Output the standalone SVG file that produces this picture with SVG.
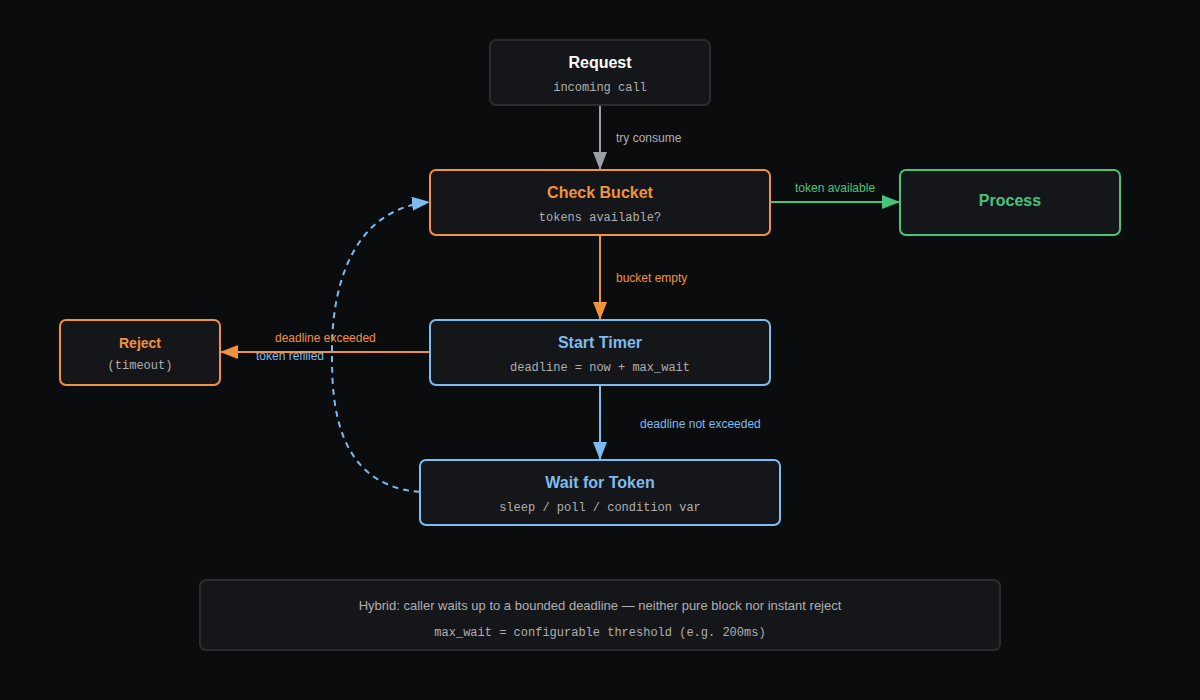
<svg xmlns="http://www.w3.org/2000/svg" width="1200" height="700" viewBox="0 0 1200 700">
<style>
.t{font-family:"Liberation Sans",Arial,sans-serif;font-weight:bold;font-size:16px;text-anchor:middle}
.m{font-family:"Liberation Mono","Courier New",monospace;font-size:12px;fill:#b0b0b0;text-anchor:middle}
.l{font-family:"Liberation Sans",Arial,sans-serif;font-size:12px}
.box{fill:#15161a;stroke-width:2}
</style>
<defs>
<marker id="ag" markerWidth="10" markerHeight="10" refX="9" refY="5" orient="auto" markerUnits="userSpaceOnUse" viewBox="0 0 10 10"><path d="M0,0L10,5L0,10z" fill="#9aa0a6"/></marker>
<marker id="ao" viewBox="0 0 18 14" markerWidth="18" markerHeight="14" refX="17" refY="7" orient="auto" markerUnits="userSpaceOnUse"><path d="M0,0L18,7L0,14z" fill="#f0923e"/></marker>
<marker id="agr" viewBox="0 0 18 14" markerWidth="18" markerHeight="14" refX="17" refY="7" orient="auto" markerUnits="userSpaceOnUse"><path d="M0,0L18,7L0,14z" fill="#48c47a"/></marker>
<marker id="ab" viewBox="0 0 18 14" markerWidth="18" markerHeight="14" refX="17" refY="7" orient="auto" markerUnits="userSpaceOnUse"><path d="M0,0L18,7L0,14z" fill="#7dbcf0"/></marker>
<marker id="agy" viewBox="0 0 18 14" markerWidth="18" markerHeight="14" refX="17" refY="7" orient="auto" markerUnits="userSpaceOnUse"><path d="M0,0L18,7L0,14z" fill="#9aa0a6"/></marker>
</defs>
<rect width="1200" height="700" fill="#0b0c0e"/>
<g id="connectors" fill="none" stroke-width="2">
<path d="M600,105V169" stroke="#9aa0a6" marker-end="url(#agy)"/>
<path d="M770,202H899" stroke="#48c47a" marker-end="url(#agr)"/>
<path d="M600,235V319" stroke="#f0923e" marker-end="url(#ao)"/>
<path d="M430,352H221" stroke="#f0923e" marker-end="url(#ao)"/>
<path d="M600,385V459" stroke="#7dbcf0" marker-end="url(#ab)"/>
<path d="M420,492C330,485 332,390 332,350C332,290 350,210 429,202" stroke="#7dbcf0" stroke-dasharray="6,5" marker-end="url(#ab)"/>
<text class="l" x="616" y="142" fill="#b0b0b0">try consume</text>
<text class="l" x="795" y="192" fill="#48c47a">token available</text>
<text class="l" x="616" y="282" fill="#f0923e">bucket empty</text>
<text class="l" x="275" y="342" fill="#f0923e">deadline exceeded</text>
<text class="l" x="256" y="360" fill="#7dbcf0">token refilled</text>
<text class="l" x="640" y="428" fill="#7dbcf0">deadline not exceeded</text>
</g>
<g id="request"><rect class="box" x="490" y="40" width="220" height="65" rx="6" stroke="#2a2c30"/><text class="t" x="600" y="68" fill="#ffffff">Request</text><text class="m" x="600" y="91">incoming call</text></g>
<g id="check"><rect class="box" x="430" y="170" width="340" height="65" rx="6" stroke="#f0923e"/><text class="t" x="600" y="198" fill="#f0923e">Check Bucket</text><text class="m" x="600" y="221">tokens available?</text></g>
<g id="process"><rect class="box" x="900" y="170" width="220" height="65" rx="6" stroke="#48c47a"/><text class="t" x="1010" y="206" fill="#48c47a">Process</text></g>
<g id="timer"><rect class="box" x="430" y="320" width="340" height="65" rx="6" stroke="#7dbcf0"/><text class="t" x="600" y="348" fill="#7dbcf0">Start Timer</text><text class="m" x="600" y="371">deadline = now + max_wait</text></g>
<g id="reject"><rect class="box" x="60" y="320" width="160" height="65" rx="6" stroke="#f0923e"/><text class="t" x="140" y="348" fill="#f0923e" style="font-size:14px">Reject</text><text class="m" x="140" y="369">(timeout)</text></g>
<g id="wait"><rect class="box" x="420" y="460" width="360" height="65" rx="6" stroke="#7dbcf0"/><text class="t" x="600" y="488" fill="#7dbcf0">Wait for Token</text><text class="m" x="600" y="511">sleep / poll / condition var</text></g>
<g id="note"><rect class="box" x="200" y="580" width="800" height="70" rx="6" stroke="#2a2c30"/><text class="l" x="600" y="610" fill="#b0b0b0" text-anchor="middle" style="font-size:13px">Hybrid: caller waits up to a bounded deadline — neither pure block nor instant reject</text><text class="m" x="600" y="636">max_wait = configurable threshold (e.g. 200ms)</text></g>
</svg>
